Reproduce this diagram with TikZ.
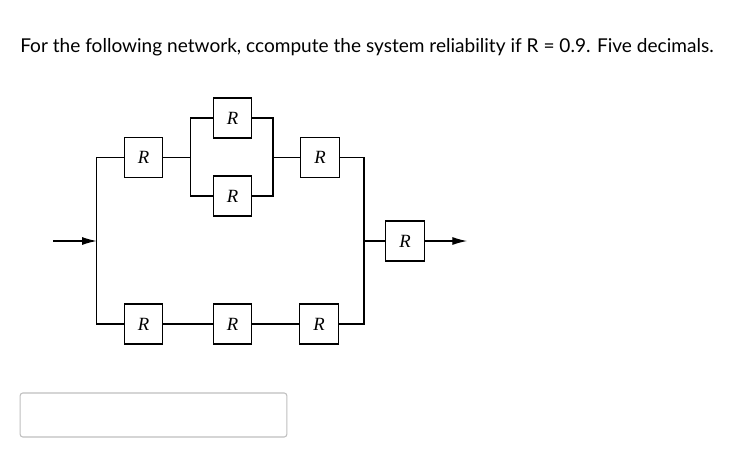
\documentclass[tikz,border=0pt]{standalone}
\usepackage{fontspec}
\usetikzlibrary{arrows.meta}
\newfontfamily\titlefont{Lato}
\newfontfamily\rfont{Liberation Serif}
\begin{document}
\begin{tikzpicture}[x=0.75pt,y=-0.75pt,
  blk/.style={draw,line width=0.8pt,minimum width=29pt,minimum height=30pt,inner sep=0pt,font=\rfont\fontsize{14pt}{16pt}\selectfont\itshape},
  wire/.style={line width=0.8pt},
  arr/.style={wire,-{Latex[length=11pt,width=6pt]}}]
\useasboundingbox (0,0) rectangle (730,453);
\node[anchor=west,font=\titlefont\fontsize{14.3pt}{17pt}\selectfont,inner sep=0pt] (title) at (20,47) {For the following network, ccompute the system reliability if R = 0.9. Five decimals.};
\node[blk] (a) at (143.5,157.5) {R};
\node[blk] (b) at (232.5,118) {R};
\node[blk] (c) at (232.5,196) {R};
\node[blk] (d) at (320,157.5) {R};
\node[blk] (e) at (143.5,324) {R};
\node[blk] (f) at (232.5,324) {R};
\node[blk] (g) at (319,324) {R};
\node[blk] (h) at (405,241) {R};
\coordinate (in) at (53,241);
\coordinate (lb) at (96.7,241);
\coordinate (rb) at (364,241);
\coordinate (out) at (467,241);
\draw[arr] (in) -- (lb);
\draw[wire] (a.west) -| (lb) |- (e.west);
\draw[wire] (d.east) -| (rb) |- (g.east);
\draw[wire] (rb) -- (h.west);
\draw[arr] (h.east) -- (out);
\draw[wire] (e) -- (f) (f) -- (g);
\draw[wire] (a.east) -- (190.7,157.5);
\draw[wire] (b.west) -| (190.7,196) -- (c.west);
\draw[wire] (b.east) -| (273,196) -- (c.east);
\draw[wire] (273,157.5) -- (d.west);
\node[draw=gray!50,rounded corners=2pt,line width=0.8pt,minimum width=200pt,minimum height=33pt,inner sep=0pt] (ans) at (153.5,415) {};
\end{tikzpicture}
\end{document}
